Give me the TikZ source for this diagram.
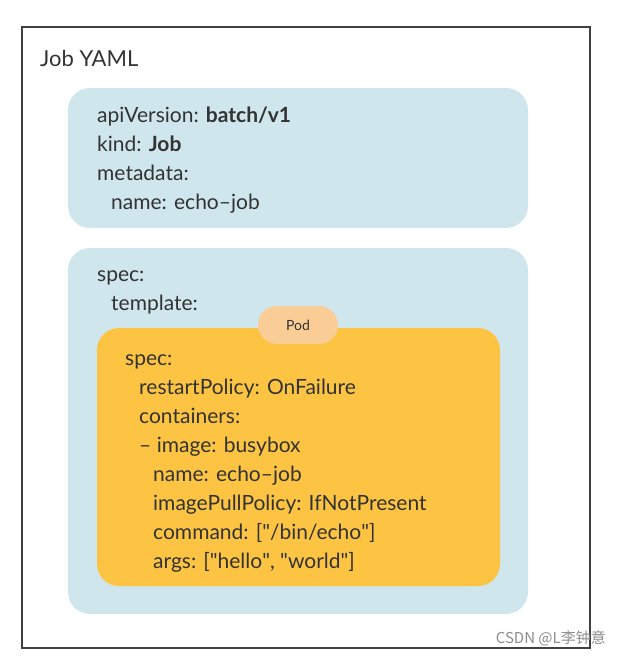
\documentclass[tikz,border=0pt]{standalone}
\usepackage{fontspec}
\setmainfont{Lato}
\newfontfamily\cjk{Noto Sans CJK SC}
\definecolor{jobblue}{RGB}{207,230,237}
\definecolor{podyellow}{RGB}{252,196,66}
\definecolor{podpill}{RGB}{250,205,150}
\definecolor{textgray}{RGB}{51,51,51}
\newcommand{\dq}{\textquotedbl}
\tikzset{
  yamlbox/.style={fill=#1,draw=none,rounded corners=22pt},
  yamlline/.style={anchor=base west,inner sep=0pt,font=\fontsize{21}{24}\selectfont,text=textgray},
}
\begin{document}
\begin{tikzpicture}[x=1pt,y=-1pt]
        \useasboundingbox (0,0) rectangle (621,656);
        \draw[line width=2pt,draw=black!75] (22,27) rectangle (590,648);
        \node[yamlline,font=\fontsize{22}{25}\selectfont] (title) at (40,66) {Job YAML};

        \draw[yamlbox=jobblue] (68,88) rectangle (528,228);
        \node[yamlline] (api) at (97,122) {apiVersion: \textbf{batch/v1}};
        \node[yamlline] (kind) at (97,151) {kind: \textbf{Job}};
        \node[yamlline] (meta) at (97,180) {metadata:};
        \node[yamlline] (name) at (111,209) {name: echo–job};

        \draw[yamlbox=jobblue] (68,248) rectangle (528,614);
        \node[yamlline] (spec) at (97,281) {spec:};
        \node[yamlline] (tmpl) at (111,310) {template:};

        \draw[yamlbox=podyellow] (97,328) rectangle (500,586);
        \node[fill=podpill,rounded corners=19pt,minimum width=80pt,minimum height=38pt,
              font=\fontsize{14}{16}\selectfont,text=textgray] (pod) at (298,325) {Pod};
        \node[yamlline] (pspec) at (125,365) {spec:};
        \node[yamlline] (restart) at (139,394) {restartPolicy: OnFailure};
        \node[yamlline] (cont) at (139,423) {containers:};
        \node[yamlline] (image) at (139,452) {– image: busybox};
        \node[yamlline] (cname) at (153,481) {name: echo–job};
        \node[yamlline] (pull) at (153,510) {imagePullPolicy: IfNotPresent};
        \node[yamlline] (cmd) at (153,539) {command: [\dq/bin/echo\dq]};
        \node[yamlline] (args) at (153,568) {args: [\dq hello\dq, \dq world\dq]};

        \node[anchor=base east,inner sep=0pt,font=\cjk\fontsize{15}{17}\selectfont,text=black!45] (mark) at (606,643) {CSDN @L李钟意};
\end{tikzpicture}
\end{document}
